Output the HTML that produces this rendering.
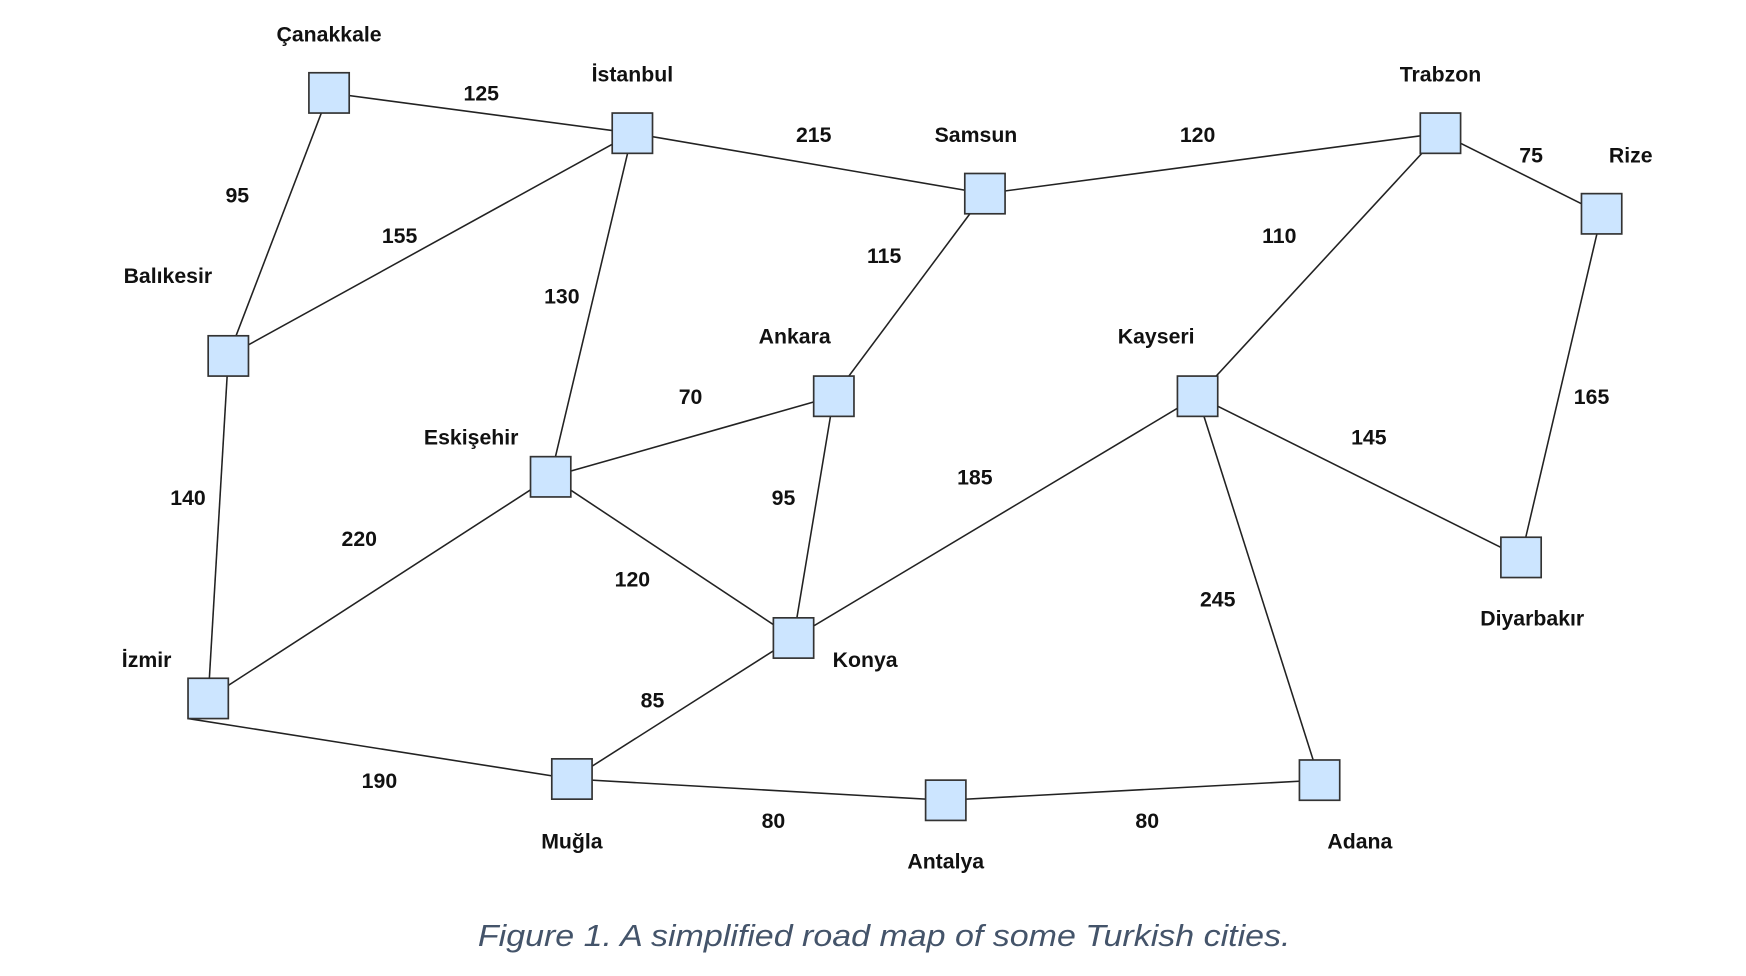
<!DOCTYPE html>
<html><head><meta charset="utf-8"><style>
html,body{margin:0;padding:0;background:#fff;}
svg{display:block;}
.n{font-family:"Liberation Sans",sans-serif;font-weight:bold;font-size:19px;fill:#111;text-anchor:middle;}
.e{stroke:#222;stroke-width:1.4;fill:none;}
.b{fill:#cce5ff;stroke:#333;stroke-width:1.5;}
</style></head><body>
<svg width="1746" height="976" viewBox="0 0 1560 872" preserveAspectRatio="none" xmlns="http://www.w3.org/2000/svg">
<g class="e">
<line x1="294" y1="83" x2="565" y2="119"/>
<line x1="294" y1="83" x2="204" y2="318"/>
<line x1="565" y1="119" x2="204" y2="318"/>
<line x1="565" y1="119" x2="880" y2="173"/>
<line x1="565" y1="119" x2="492" y2="426"/>
<line x1="880" y1="173" x2="1287" y2="119"/>
<line x1="880" y1="173" x2="745" y2="354"/>
<line x1="1287" y1="119" x2="1431" y2="191"/>
<line x1="1287" y1="119" x2="1070" y2="354"/>
<line x1="1431" y1="191" x2="1359" y2="498"/>
<line x1="204" y1="318" x2="186" y2="624"/>
<line x1="492" y1="426" x2="745" y2="354"/>
<line x1="492" y1="426" x2="709" y2="570"/>
<line x1="492" y1="426" x2="186" y2="624"/>
<line x1="745" y1="354" x2="709" y2="570"/>
<line x1="1070" y1="354" x2="709" y2="570"/>
<line x1="1070" y1="354" x2="1359" y2="498"/>
<line x1="1070" y1="354" x2="1179" y2="697"/>
<line x1="168" y1="642" x2="511" y2="696"/>
<line x1="511" y1="696" x2="709" y2="570"/>
<line x1="511" y1="696" x2="845" y2="715"/>
<line x1="845" y1="715" x2="1179" y2="697"/>
</g>
<g class="b">
<rect x="276" y="65" width="36" height="36"/>
<rect x="547" y="101" width="36" height="36"/>
<rect x="862" y="155" width="36" height="36"/>
<rect x="1269" y="101" width="36" height="36"/>
<rect x="1413" y="173" width="36" height="36"/>
<rect x="186" y="300" width="36" height="36"/>
<rect x="727" y="336" width="36" height="36"/>
<rect x="1052" y="336" width="36" height="36"/>
<rect x="474" y="408" width="36" height="36"/>
<rect x="1341" y="480" width="36" height="36"/>
<rect x="691" y="552" width="36" height="36"/>
<rect x="168" y="606" width="36" height="36"/>
<rect x="493" y="678" width="36" height="36"/>
<rect x="827" y="697" width="36" height="36"/>
<rect x="1161" y="679" width="36" height="36"/>
</g>
<g class="n">
<text x="294" y="37">Çanakkale</text>
<text x="565" y="73">İstanbul</text>
<text x="872" y="127">Samsun</text>
<text x="1287" y="73">Trabzon</text>
<text x="1457" y="145">Rize</text>
<text x="150" y="253">Balıkesir</text>
<text x="710" y="307">Ankara</text>
<text x="1033" y="307">Kayseri</text>
<text x="421" y="397">Eskişehir</text>
<text x="1369" y="559">Diyarbakır</text>
<text x="773" y="596">Konya</text>
<text x="131" y="596">İzmir</text>
<text x="511" y="758">Muğla</text>
<text x="845" y="776">Antalya</text>
<text x="1215" y="758">Adana</text>
<text x="430" y="90">125</text>
<text x="727" y="127">215</text>
<text x="1070" y="127">120</text>
<text x="1368" y="145">75</text>
<text x="212" y="181">95</text>
<text x="357" y="217">155</text>
<text x="502" y="271">130</text>
<text x="790" y="235">115</text>
<text x="1143" y="217">110</text>
<text x="617" y="361">70</text>
<text x="1422" y="361">165</text>
<text x="1223" y="397">145</text>
<text x="871" y="433">185</text>
<text x="700" y="451">95</text>
<text x="168" y="451">140</text>
<text x="321" y="488">220</text>
<text x="565" y="524">120</text>
<text x="1088" y="542">245</text>
<text x="583" y="632">85</text>
<text x="339" y="704">190</text>
<text x="691" y="740">80</text>
<text x="1025" y="740">80</text>
</g>
<text x="790" y="845" text-anchor="middle" font-family="Liberation Sans, sans-serif" font-style="italic" font-size="27" fill="#44546a" textLength="726" lengthAdjust="spacingAndGlyphs">Figure 1. A simplified road map of some Turkish cities.</text>
</svg>
</body></html>
